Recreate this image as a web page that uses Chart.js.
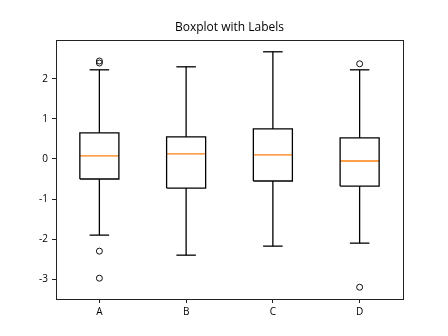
<!DOCTYPE html>
<html>
<head>
<meta charset="utf-8">
<title>Boxplot with Labels</title>
<script src="https://cdn.jsdelivr.net/npm/chart.js@4/dist/chart.umd.min.js"></script>
<style>
  html, body { margin: 0; padding: 0; background: #fff; }
</style>
</head>
<body>
<canvas id="boxChart" width="448" height="336"></canvas>
<script>
// --- Box statistics per group ---
const categories = ['A', 'B', 'C', 'D'];
const lowerWhiskers = [-1.9, -2.4, -2.175, -2.1];
const q1 = [-0.5, -0.725, -0.55, -0.675];
const medians = [0.075, 0.125, 0.1, -0.05];
const q3 = [0.65, 0.55, 0.75, 0.525];
const upperWhiskers = [2.225, 2.3, 2.675, 2.225];
const fliers = [
    [2.445, 2.395, -2.3, -2.975],
    [],
    [],
    [2.375, -3.2]
];
const yTicks = [-3, -2, -1, 0, 1, 2];

const boxWidth = 0.45;
const lineColor = '#000';
const medianColor = '#ff7f0e';

// a plain line segment drawn as a scatter dataset
function segment(points, color) {
    return {
        data: points,
        showLine: true,
        borderColor: color,
        borderWidth: 1.3,
        pointRadius: 0,
        fill: false
    };
}

const datasets = [];
categories.forEach((cat, i) => {
    const x = i + 1;
    const half = boxWidth / 2;
    const cap = boxWidth / 4;

    // box outline
    datasets.push(segment([
        { x: x - half, y: q1[i] },
        { x: x + half, y: q1[i] },
        { x: x + half, y: q3[i] },
        { x: x - half, y: q3[i] },
        { x: x - half, y: q1[i] }
    ], lineColor));

    // whiskers + caps
    datasets.push(segment([{ x: x, y: q1[i] }, { x: x, y: lowerWhiskers[i] }], lineColor));
    datasets.push(segment([{ x: x, y: q3[i] }, { x: x, y: upperWhiskers[i] }], lineColor));
    datasets.push(segment([{ x: x - cap, y: lowerWhiskers[i] }, { x: x + cap, y: lowerWhiskers[i] }], lineColor));
    datasets.push(segment([{ x: x - cap, y: upperWhiskers[i] }, { x: x + cap, y: upperWhiskers[i] }], lineColor));

    // median
    datasets.push(segment([{ x: x - half, y: medians[i] }, { x: x + half, y: medians[i] }], medianColor));

    // outliers
    if (fliers[i].length) {
        datasets.push({
            data: fliers[i].map(v => ({ x: x, y: v })),
            showLine: false,
            pointStyle: 'circle',
            pointRadius: 3,
            pointBorderWidth: 1,
            pointBorderColor: '#111',
            pointBackgroundColor: 'rgba(0,0,0,0)'
        });
    }
});

// frame around the plot area (all four spines)
const framePlugin = {
    id: 'frame',
    afterDatasetsDraw(chart) {
        const { ctx, chartArea: a } = chart;
        ctx.save();
        ctx.strokeStyle = '#222';
        ctx.lineWidth = 1;
        ctx.strokeRect(a.left + 0.5, a.top + 0.5, a.right - a.left, a.bottom - a.top);
        ctx.restore();
    }
};

Chart.defaults.font.family = '"Open Sans", "Noto Sans", sans-serif';
Chart.defaults.color = '#000';

new Chart(document.getElementById('boxChart'), {
    type: 'scatter',
    data: { datasets },
    options: {
        responsive: false,
        animation: false,
        layout: { padding: { left: 0, right: 45, top: 0, bottom: 0 } },
        plugins: {
            legend: { display: false },
            tooltip: { enabled: false },
            title: {
                display: true,
                text: 'Boxplot with Labels',
                fullSize: false,
                font: { size: 12, weight: 'normal' },
                color: '#000',
                padding: { top: 20, bottom: 5.6 }
            }
        },
        scales: {
            x: {
                type: 'linear',
                min: 0.5,
                max: 4.5,
                border: { display: false },
                grid: { drawOnChartArea: false, drawTicks: true, tickLength: 4, color: '#222' },
                afterBuildTicks: scale => {
                    scale.ticks = categories.map((c, i) => ({ value: i + 1 }));
                },
                afterFit: scale => { scale.height = 37; },
                ticks: {
                    font: { size: 10 },
                    padding: 3,
                    callback: v => categories[v - 1]
                }
            },
            y: {
                min: -3.494,
                max: 2.969,
                border: { display: false },
                grid: { drawOnChartArea: false, drawTicks: true, tickLength: 4, color: '#222' },
                afterBuildTicks: scale => {
                    scale.ticks = yTicks.map(v => ({ value: v }));
                },
                afterFit: scale => { scale.width = 56; },
                ticks: {
                    font: { size: 10 },
                    padding: 4,
                    callback: v => String(v)
                }
            }
        }
    },
    plugins: [framePlugin]
});
</script>
</body>
</html>
